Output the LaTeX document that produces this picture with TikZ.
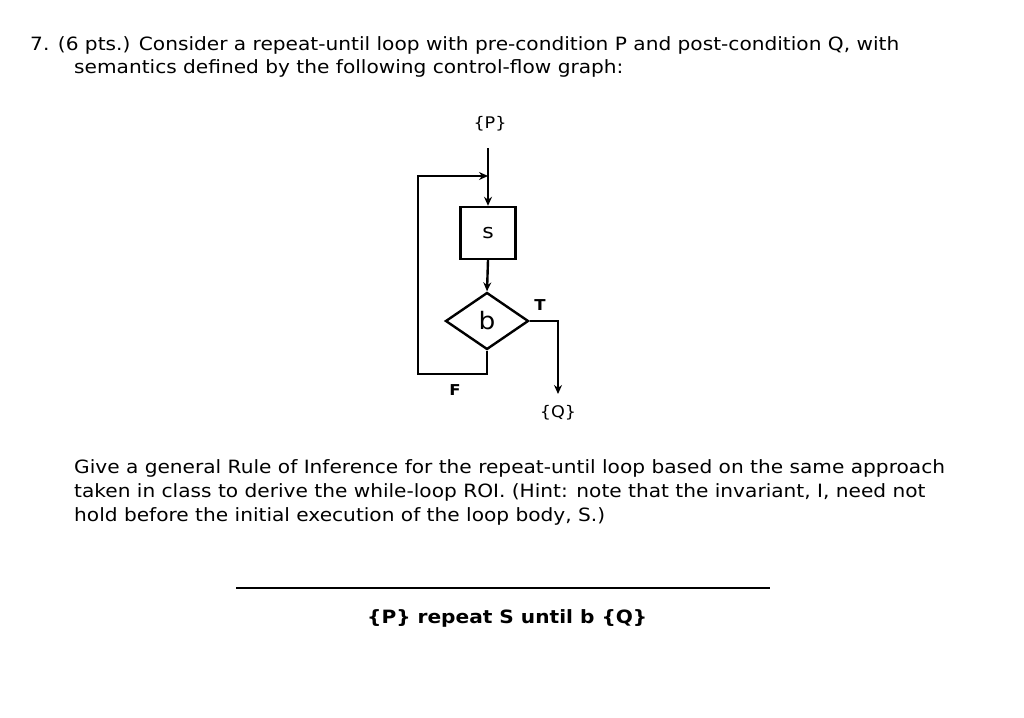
\documentclass[tikz,border=0pt]{standalone}
\usepackage{fontspec}
\setmainfont[FakeStretch=1.1]{DejaVu Sans}
\usetikzlibrary{shapes.geometric,arrows.meta}
\begin{document}
\begin{tikzpicture}[x=1pt,y=-1pt,
  txt/.style={anchor=base west,inner sep=0pt,font=\fontsize{18.3}{22}\selectfont},
  lbl/.style={inner sep=0pt,font=\fontsize{16}{18}\selectfont},
  flow/.style={line width=2.4pt},
  arr/.style={flow,-{Stealth[length=9pt,width=8pt]}}]
\useasboundingbox (0,0) rectangle (1024,717);
\node[txt] (l1) at (30,50) {7. (6 pts.) Consider a repeat-until loop with pre-condition P and post-condition Q, with};
\node[txt] (l2) at (74,74) {semantics defined by the following control-flow graph:};
\node[txt] (p1) at (74,473) {Give a general Rule of Inference for the repeat-until loop based on the same approach};
\node[txt] (p2) at (74,497) {taken in class to derive the while-loop ROI. (Hint: note that the invariant, I, need not};
\node[txt] (p3) at (74,521) {hold before the initial execution of the loop body, S.)};
\node[txt,font=\fontsize{18.3}{22}\selectfont\bfseries] (rule) at (367,623) {\{P\} repeat S until b \{Q\}};
\draw[line width=1.6pt] (236,588) coordinate (ra) -- (770,588) coordinate (rb);
% diagram
\node[lbl] (P) at (490,124) {\{P\}};
\coordinate (top) at (488,148);
\coordinate (join) at (488,176);
\node[draw,line width=2.4pt,minimum width=55pt,minimum height=52pt,inner sep=0pt,lbl,font=\fontsize{20}{22}\selectfont] (S) at (488,233) {s};
\node[draw,line width=2.4pt,diamond,minimum width=83pt,minimum height=57pt,inner sep=0pt,aspect=1.45,lbl,font=\fontsize{24}{26}\selectfont] (b) at (487,321) {b};
\draw[arr] (top) -- (S.north);
\draw[arr] (S.south) -- (b.north);
\coordinate (fl) at (487,374);
\coordinate (fc) at (418,374);
\coordinate (fu) at (418,176);
\draw[arr] (b.south) -- (fl) -- (fc) -- (fu) -- (join);
\coordinate (tr) at (558,321);
\coordinate (te) at (558,394);
\draw[arr] (b.east) -- (tr) -- (te);
\node[lbl,font=\fontsize{15}{16}\selectfont\bfseries] (T) at (540,305) {T};
\node[lbl,font=\fontsize{15}{16}\selectfont\bfseries] (F) at (455,390) {F};
\node[lbl] (Q) at (558,413) {\{Q\}};
\end{tikzpicture}
\end{document}
